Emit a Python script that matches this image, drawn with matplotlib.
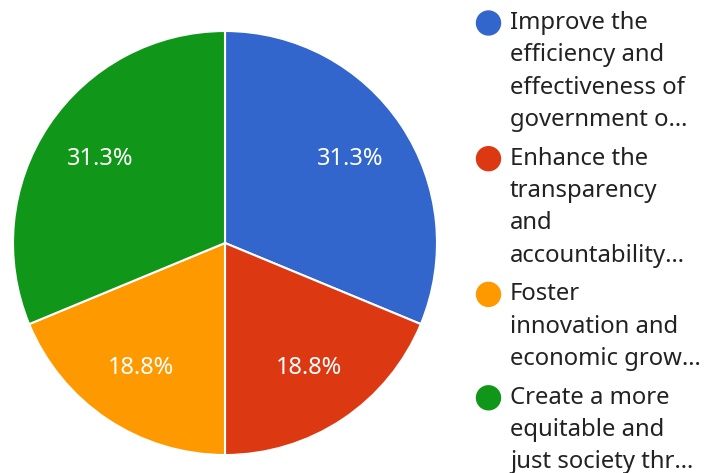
import matplotlib.pyplot as plt

plt.rcParams['font.family'] = ['Noto Sans', 'DejaVu Sans']

# data
labels = [
    ['Improve the', 'efficiency and', 'effectiveness of', 'government o…'],
    ['Enhance the', 'transparency', 'and', 'accountability…'],
    ['Foster', 'innovation and', 'economic grow…'],
    ['Create a more', 'equitable and', 'just society thr…'],
]
counts = [5, 3, 3, 5]
colors = ['#3366cc', '#dc3912', '#ff9900', '#109618']

W, H = 704, 473
fig = plt.figure(figsize=(W / 100, H / 100), dpi=100)


def pct_fmt(p):
    # round half up like the original (31.25 -> 31.3)
    return '%.1f%%' % (int(p * 10 + 0.5 + 1e-9) / 10)


# pie axes: centre (225, 243), radius 212 px
ax = fig.add_axes([13 / W, (H - 455) / H, 424 / W, 424 / H])
wedges, texts, autotexts = ax.pie(
    counts, colors=colors, startangle=90, counterclock=False,
    autopct=pct_fmt, pctdistance=0.71,
    wedgeprops=dict(edgecolor='white', linewidth=1.5),
    textprops=dict(color='white', fontsize=17))
ax.set_xlim(-1.0, 1.0)
ax.set_ylim(-1.0, 1.0)
ax.set_aspect('equal')
ax.axis('off')

# legend drawn by hand to mimic wrapped google-forms style
line_h = 32.3
group_gap = 6.5
y = 23
for lines, c in zip(labels, colors):
    fig.patches.append(plt.Circle((488.5, H - y), 12, color=c,
                                  transform=None, figure=fig))
    for i, ln in enumerate(lines):
        fig.text(510 / W, 1 - (y + i * line_h) / H, ln, fontsize=17.2,
                 color='#222222', va='center', ha='left')
    y += len(lines) * line_h + group_gap

fig.savefig('out.png', dpi=100)
